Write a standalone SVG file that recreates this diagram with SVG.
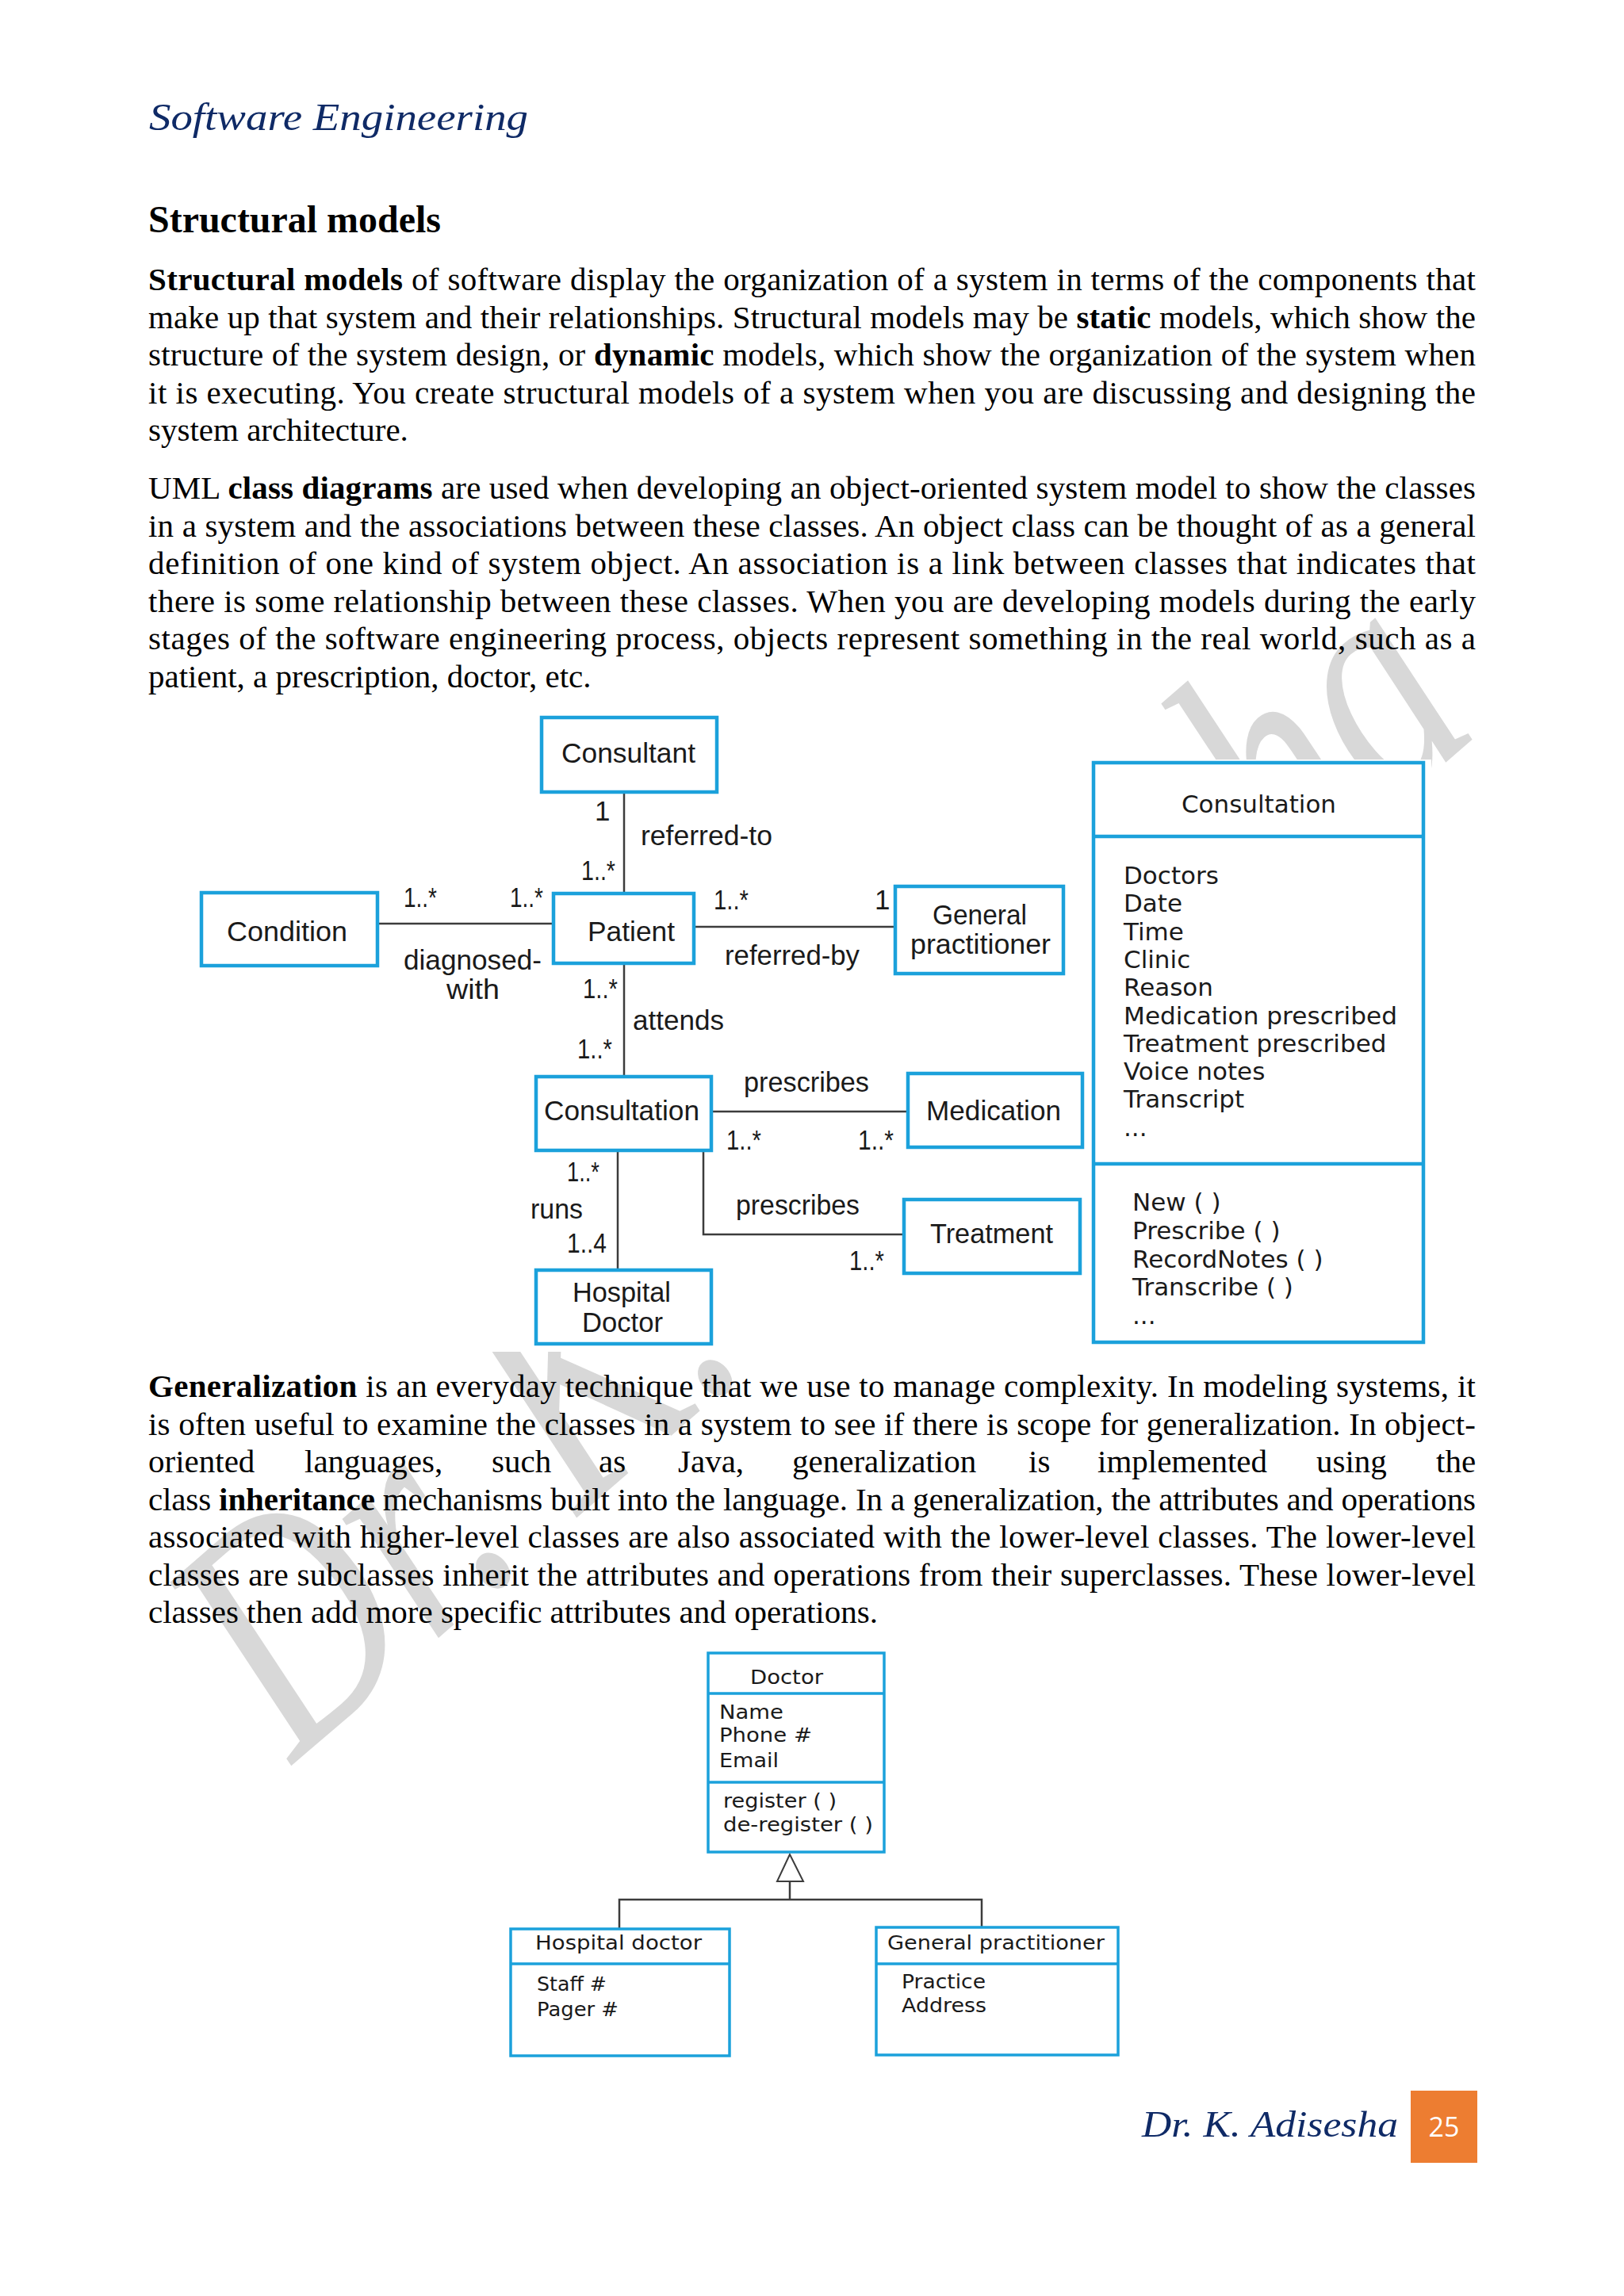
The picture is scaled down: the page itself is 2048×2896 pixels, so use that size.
<svg xmlns="http://www.w3.org/2000/svg" width="2048" height="2896" viewBox="0 0 2048 2896">
<style>
.body{font-family:"Liberation Serif","Times New Roman",serif;font-size:41px;fill:#000}
.b{font-weight:bold}
.h2{font-family:"Liberation Serif","Times New Roman",serif;font-size:48px;font-weight:bold;fill:#000}
.hdr{font-family:"Liberation Serif",serif;font-style:italic;fill:#0f2a66}
.box{fill:none;stroke:#1ba1db;stroke-width:4.5}
.box2{fill:none;stroke:#1ba1db;stroke-width:3.5}
.lbl{font-family:"Liberation Sans",Arial,sans-serif;font-size:35px;fill:#1a1a1a}
.attr{font-family:"DejaVu Sans",Verdana,sans-serif;font-size:31px;fill:#1a1a1a}
.sm{font-family:"DejaVu Sans",Verdana,sans-serif;font-size:25px;fill:#1a1a1a}
.conn{stroke:#3c3c3c;stroke-width:2.5;fill:none}
</style>
<defs>
<clipPath id="wmclip"><path clip-rule="evenodd" d="M0 0H2048V2896H0Z M240 893H1375V958H1805V1705H240Z M630 2075H1420V2600H630Z"/></clipPath>
</defs>
<rect width="2048" height="2896" fill="#fff"/>

<!-- watermark -->
<g id="watermark" clip-path="url(#wmclip)">
<text transform="translate(370,2225) rotate(-41)" font-family="Liberation Serif,serif" font-style="italic" font-size="420" fill="#d8d8d8" textLength="1990" lengthAdjust="spacingAndGlyphs">Dr. K. Adisesha</text>
</g>

<!-- header -->
<g id="header">
<text class="hdr" x="188" y="164" font-size="48" textLength="478" lengthAdjust="spacingAndGlyphs">Software Engineering</text>
<text class="h2" x="187" y="293" textLength="369" lengthAdjust="spacingAndGlyphs">Structural models</text>
</g>

<!-- paragraph 1 -->
<g id="para1" class="body">
<text x="187" y="366" textLength="1674" lengthAdjust="spacing"><tspan class="b">Structural models</tspan> of software display the organization of a system in terms of the components that</text>
<text x="187" y="413.5" textLength="1674" lengthAdjust="spacing">make up that system and their relationships. Structural models may be <tspan class="b">static</tspan> models, which show the</text>
<text x="187" y="461" textLength="1674" lengthAdjust="spacing">structure of the system design, or <tspan class="b">dynamic</tspan> models, which show the organization of the system when</text>
<text x="187" y="508.5" textLength="1674" lengthAdjust="spacing">it is executing. You create structural models of a system when you are discussing and designing the</text>
<text x="187" y="556">system architecture.</text>
</g>

<!-- paragraph 2 -->
<g id="para2" class="body">
<text x="187" y="629" textLength="1674" lengthAdjust="spacing">UML <tspan class="b">class diagrams</tspan> are used when developing an object-oriented system model to show the classes</text>
<text x="187" y="676.5" textLength="1674" lengthAdjust="spacing">in a system and the associations between these classes. An object class can be thought of as a general</text>
<text x="187" y="724" textLength="1674" lengthAdjust="spacing">definition of one kind of system object. An association is a link between classes that indicates that</text>
<text x="187" y="771.5" textLength="1674" lengthAdjust="spacing">there is some relationship between these classes. When you are developing models during the early</text>
<text x="187" y="819" textLength="1674" lengthAdjust="spacing">stages of the software engineering process, objects represent something in the real world, such as a</text>
<text x="187" y="866.5">patient, a prescription, doctor, etc.</text>
</g>

<!-- diagram 1 connectors -->
<g id="connectors1" class="conn">
<line x1="787" y1="1001" x2="787" y2="1125"/>
<line x1="787" y1="1217" x2="787" y2="1356"/>
<line x1="478" y1="1165" x2="696" y2="1165"/>
<line x1="877" y1="1169" x2="1127" y2="1169"/>
<line x1="899" y1="1402" x2="1143" y2="1402"/>
<line x1="779" y1="1453" x2="779" y2="1600"/>
<polyline points="887,1453 887,1557 1138,1557"/>
</g>

<!-- diagram 1 nodes -->
<g id="consultant"><rect class="box" x="683" y="905" width="221" height="94"/><text class="lbl" x="708" y="962" textLength="169" lengthAdjust="spacingAndGlyphs">Consultant</text></g>
<g id="condition"><rect class="box" x="254" y="1126" width="222" height="92"/><text class="lbl" x="286" y="1187" textLength="152" lengthAdjust="spacingAndGlyphs">Condition</text></g>
<g id="patient"><rect class="box" x="698" y="1127" width="177" height="88"/><text class="lbl" x="741" y="1187" textLength="110" lengthAdjust="spacingAndGlyphs">Patient</text></g>
<g id="gp"><rect class="box" x="1129" y="1118" width="212" height="110"/><text class="lbl" x="1176" y="1166" textLength="119" lengthAdjust="spacingAndGlyphs">General</text><text class="lbl" x="1148" y="1203" textLength="177" lengthAdjust="spacingAndGlyphs">practitioner</text></g>
<g id="consultation-small"><rect class="box" x="676" y="1358" width="221" height="93"/><text class="lbl" x="686" y="1413" textLength="196" lengthAdjust="spacingAndGlyphs">Consultation</text></g>
<g id="medication"><rect class="box" x="1145" y="1354" width="220" height="93"/><text class="lbl" x="1168" y="1413" textLength="170" lengthAdjust="spacingAndGlyphs">Medication</text></g>
<g id="treatment"><rect class="box" x="1140" y="1513" width="222" height="93"/><text class="lbl" x="1173" y="1568" textLength="155" lengthAdjust="spacingAndGlyphs">Treatment</text></g>
<g id="hospital-doctor"><rect class="box" x="676" y="1602" width="221" height="93"/><text class="lbl" x="722" y="1642" textLength="124" lengthAdjust="spacingAndGlyphs">Hospital</text><text class="lbl" x="734" y="1680" textLength="102" lengthAdjust="spacingAndGlyphs">Doctor</text></g>

<!-- diagram 1 labels -->
<g id="labels1" class="lbl">
<text x="750" y="1035">1</text>
<text x="808" y="1066" textLength="166" lengthAdjust="spacingAndGlyphs">referred-to</text>
<text x="733" y="1110" textLength="43" lengthAdjust="spacingAndGlyphs">1..*</text>
<text x="509" y="1144" textLength="42" lengthAdjust="spacingAndGlyphs">1..*</text>
<text x="643" y="1144" textLength="42" lengthAdjust="spacingAndGlyphs">1..*</text>
<text x="509" y="1223" textLength="174" lengthAdjust="spacingAndGlyphs">diagnosed-</text>
<text x="563" y="1260" textLength="67" lengthAdjust="spacingAndGlyphs">with</text>
<text x="900" y="1147" textLength="44" lengthAdjust="spacingAndGlyphs">1..*</text>
<text x="1103" y="1147">1</text>
<text x="914" y="1217" textLength="170" lengthAdjust="spacingAndGlyphs">referred-by</text>
<text x="735" y="1259" textLength="44" lengthAdjust="spacingAndGlyphs">1..*</text>
<text x="798" y="1299" textLength="115" lengthAdjust="spacingAndGlyphs">attends</text>
<text x="728" y="1335" textLength="44" lengthAdjust="spacingAndGlyphs">1..*</text>
<text x="938" y="1377" textLength="158" lengthAdjust="spacingAndGlyphs">prescribes</text>
<text x="916" y="1450" textLength="44" lengthAdjust="spacingAndGlyphs">1..*</text>
<text x="1082" y="1450" textLength="45" lengthAdjust="spacingAndGlyphs">1..*</text>
<text x="715" y="1490" textLength="41" lengthAdjust="spacingAndGlyphs">1..*</text>
<text x="669" y="1537" textLength="66" lengthAdjust="spacingAndGlyphs">runs</text>
<text x="715" y="1580" textLength="50" lengthAdjust="spacingAndGlyphs">1..4</text>
<text x="928" y="1532" textLength="156" lengthAdjust="spacingAndGlyphs">prescribes</text>
<text x="1071" y="1602" textLength="44" lengthAdjust="spacingAndGlyphs">1..*</text>
</g>

<!-- Consultation class -->
<g id="consultation-class">
<rect class="box" x="1379" y="962" width="416" height="731"/>
<line class="box" x1="1379" y1="1055" x2="1795" y2="1055"/>
<line class="box" x1="1379" y1="1468" x2="1795" y2="1468"/>
<text class="attr" x="1490" y="1025" textLength="195" lengthAdjust="spacingAndGlyphs">Consultation</text>
<text class="attr" x="1417" y="1115">Doctors</text>
<text class="attr" x="1417" y="1150.3">Date</text>
<text class="attr" x="1417" y="1185.6">Time</text>
<text class="attr" x="1417" y="1220.9">Clinic</text>
<text class="attr" x="1417" y="1256.2">Reason</text>
<text class="attr" x="1417" y="1291.5" textLength="345" lengthAdjust="spacingAndGlyphs">Medication prescribed</text>
<text class="attr" x="1417" y="1326.8">Treatment prescribed</text>
<text class="attr" x="1417" y="1362.1">Voice notes</text>
<text class="attr" x="1417" y="1397.4">Transcript</text>
<text class="attr" x="1417" y="1432.7">...</text>
<text class="attr" x="1428" y="1527">New ( )</text>
<text class="attr" x="1428" y="1563">Prescribe ( )</text>
<text class="attr" x="1428" y="1599">RecordNotes ( )</text>
<text class="attr" x="1428" y="1634">Transcribe ( )</text>
<text class="attr" x="1428" y="1670">...</text>
</g>

<!-- paragraph 3 -->
<g id="para3" class="body">
<text x="187" y="1762" textLength="1674" lengthAdjust="spacing"><tspan class="b">Generalization</tspan> is an everyday technique that we use to manage complexity. In modeling systems, it</text>
<text x="187" y="1809.5" textLength="1674" lengthAdjust="spacing">is often useful to examine the classes in a system to see if there is scope for generalization. In object-</text>
<text y="1857"><tspan x="187">oriented</tspan><tspan x="384">languages,</tspan><tspan x="620">such</tspan><tspan x="755">as</tspan><tspan x="855">Java,</tspan><tspan x="999">generalization</tspan><tspan x="1297">is</tspan><tspan x="1384">implemented</tspan><tspan x="1660">using</tspan><tspan x="1811">the</tspan></text>
<text x="187" y="1904.5" textLength="1674" lengthAdjust="spacing">class <tspan class="b">inheritance</tspan> mechanisms built into the language. In a generalization, the attributes and operations</text>
<text x="187" y="1952" textLength="1674" lengthAdjust="spacing">associated with higher-level classes are also associated with the lower-level classes. The lower-level</text>
<text x="187" y="1999.5" textLength="1674" lengthAdjust="spacing">classes are subclasses inherit the attributes and operations from their superclasses. These lower-level</text>
<text x="187" y="2047">classes then add more specific attributes and operations.</text>
</g>

<!-- diagram 2 connectors -->
<g id="connectors2" class="conn">
<polygon points="996,2339 980,2373 1013,2373" fill="#fff" stroke-width="2"/>
<line x1="996" y1="2373" x2="996" y2="2396"/>
<polyline points="781,2432 781,2396 1238,2396 1238,2430"/>
</g>

<!-- diagram 2 nodes -->
<g id="doctor">
<rect class="box2" x="893" y="2085" width="222" height="251"/>
<line class="box2" x1="893" y1="2136" x2="1115" y2="2136"/>
<line class="box2" x1="893" y1="2248" x2="1115" y2="2248"/>
<text class="sm" x="946" y="2124" textLength="92" lengthAdjust="spacingAndGlyphs">Doctor</text>
<text class="sm" x="907" y="2168" textLength="81" lengthAdjust="spacingAndGlyphs">Name</text>
<text class="sm" x="907" y="2197" textLength="117" lengthAdjust="spacingAndGlyphs">Phone #</text>
<text class="sm" x="907" y="2229" textLength="75" lengthAdjust="spacingAndGlyphs">Email</text>
<text class="sm" x="912" y="2280" textLength="143" lengthAdjust="spacingAndGlyphs">register ( )</text>
<text class="sm" x="912" y="2310" textLength="189" lengthAdjust="spacingAndGlyphs">de-register ( )</text>
</g>
<g id="hospital-doctor-2">
<rect class="box2" x="644" y="2433" width="276" height="160"/>
<line class="box2" x1="644" y1="2477" x2="920" y2="2477"/>
<text class="sm" x="675" y="2459" textLength="210" lengthAdjust="spacingAndGlyphs">Hospital doctor</text>
<text class="sm" x="677" y="2511" textLength="88" lengthAdjust="spacingAndGlyphs">Staff #</text>
<text class="sm" x="677" y="2543" textLength="103" lengthAdjust="spacingAndGlyphs">Pager #</text>
</g>
<g id="gp-2">
<rect class="box2" x="1105" y="2431" width="305" height="161"/>
<line class="box2" x1="1105" y1="2477" x2="1410" y2="2477"/>
<text class="sm" x="1119" y="2459" textLength="274" lengthAdjust="spacingAndGlyphs">General practitioner</text>
<text class="sm" x="1137" y="2508" textLength="106" lengthAdjust="spacingAndGlyphs">Practice</text>
<text class="sm" x="1137" y="2538" textLength="107" lengthAdjust="spacingAndGlyphs">Address</text>
</g>

<!-- footer -->
<g id="footer">
<text class="hdr" x="1440" y="2695" font-size="46" textLength="323" lengthAdjust="spacingAndGlyphs">Dr. K. Adisesha</text>
<rect x="1779" y="2637" width="84" height="91" fill="#ed7d31"/>
<text x="1821" y="2695" font-family="Open Sans,Liberation Sans,sans-serif" font-size="34" fill="#fff" text-anchor="middle">25</text>
</g>
</svg>
